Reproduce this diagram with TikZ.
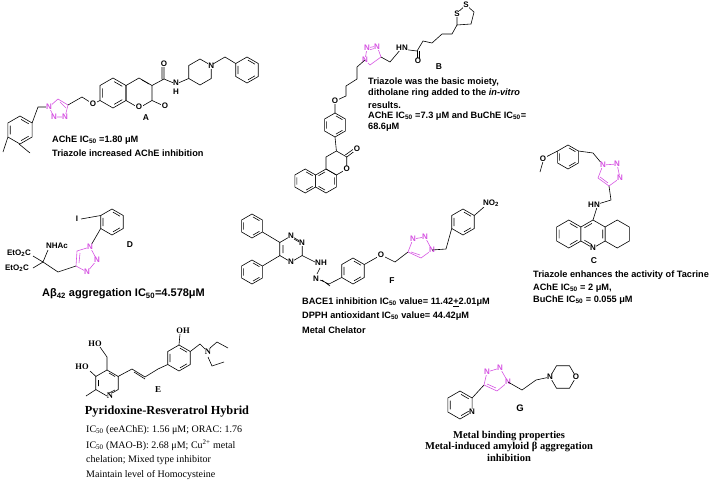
\documentclass[tikz,border=0pt]{standalone}
\usepackage{fontspec}
\setmainfont{Liberation Sans}
\newfontfamily\serf{Liberation Serif}
\begin{document}
\begin{tikzpicture}[x=1pt,y=-1pt,
  bond/.style={line width=0.6pt,black},
  tz/.style={line width=0.6pt,trz},
  atm/.style={font=\bfseries\fontsize{8}{8}\selectfont,fill=white,inner sep=0.4pt},
  atz/.style={atm,text=trz},
  lbl/.style={font=\bfseries\fontsize{8.5}{8.5}\selectfont},
  txt/.style={anchor=west,font=\bfseries\fontsize{9.2}{9.2}\selectfont,inner sep=0},
  stxt/.style={anchor=west,font=\serf\fontsize{10}{10}\selectfont,inner sep=0}]
\definecolor{trz}{RGB}{214,84,226}
\newcommand\hexa[4]{\draw[bond,shift={(#1,#2)},rotate=#4] (30:#3)--(90:#3)--(150:#3)--(210:#3)--(270:#3)--(330:#3)--cycle;}
\newcommand\arom[4]{\hexa{#1}{#2}{#3}{#4}\draw[bond,shift={(#1,#2)},rotate=#4] (36:0.76*#3)--(84:0.76*#3) (156:0.76*#3)--(204:0.76*#3) (276:0.76*#3)--(324:0.76*#3);}
\newcommand\sub[1]{\textsubscript{#1}}
\useasboundingbox (0,0) rectangle (709,482);
%================ A
\arom{20}{130}{14}{0}
\draw[bond] (19,144)--(30,153) (7.9,137)--(3,152);
\draw[bond] (32.1,123)--(38,107)--(49,107);
\draw[tz] (49,107)--(54,117)--(65,117)--(68,105)--(58,99)--cycle (66,108)--(60,102);
\node[atz] (a1) at (49,107) {N};\node[atz] (a2) at (54,117) {N};\node[atz] (a3) at (65,117) {N};
\draw[bond] (68,105)--(82,97)--(93,104)--(100,100.5);
\node[atm] (aO) at (93,104) {O};
\arom{113}{93}{15}{0}
\hexa{139}{93}{15}{0}
\draw[bond] (142,80)--(149,84);
\draw[bond] (152,100.5)--(164,106) (152,85.5)--(164,79)--(164,66) (162,79)--(162,66) (164,79)--(176,84)--(188.7,78.5);
\node[atm] (aO2) at (139,107) {O};\node[atm] (aO3) at (165,106) {O};\node[atm] (aO4) at (164,64) {O};
\node[atm] (aN) at (176,83) {N};\node[atm] (aH) at (176,92) {H};
\hexa{200}{72}{13}{0}
\node[atm] (aN2) at (211.3,65.5) {N};
\draw[bond] (213,64)--(225,57)--(235.7,63.5);
\arom{247}{70}{13}{0}
\node[lbl] (A) at (146,118) {A};
\node[txt] (ta1) at (52,140) {AChE IC\sub{50} =1.80 μM};
\node[txt] (ta2) at (52,153) {Triazole increased AChE inhibition};
%================ B
\draw[tz] (365,60)--(367,48)--(377,46)--(381,57)--(370,65)--cycle (369,50)--(376,48);
\node[atz] (b1) at (365,60) {N};\node[atz] (b2) at (367,48) {N};\node[atz] (b3) at (377,47) {N};
\draw[bond] (381,57)--(390,62)--(401,49)--(417,51)--(423,41)--(432,43)--(442,34)--(452,34)--(457,25);
\draw[bond] (417,51)--(417,61) (419,51)--(419,61);
\node[atm] (bHN) at (402,48) {HN};\node[atm] (bO) at (418,61) {O};
\draw[bond] (457,25)--(457,13)--(466,5)--(474,12)--(471,24)--cycle;
\node[atm] (bS1) at (457,14) {S};\node[atm] (bS2) at (466,5) {S};
\draw[bond] (365,60)--(357,67)--(357,79)--(346,86)--(346,96)--(335,101)--(335,113);
\node[atm] (bO2) at (335,101) {O};
\arom{335}{125}{12}{0}
\draw[bond] (335,137)--(336.4,151);
\hexa{336.4}{163}{12}{0}
\draw[bond] (346.8,157)--(356,150) (345.3,155)--(354.3,148.5);
\node[atm] (bO3) at (357,149) {O};\node[atm] (bO4) at (346.8,169) {O};
\arom{305.2}{181}{12}{0}
\arom{326}{181}{12}{180}
\node[lbl] (B) at (439,67) {B};
\node[txt] (tb1) at (368,82) {Triazole was the basic moiety,};
\node[txt] (tb2) at (368,93) {ditholane ring added to the \textit{in-vitro}};
\node[txt] (tb3) at (368,105) {results.};
\node[txt] (tb4) at (368,116) {AChE IC\sub{50} =7.3 μM and BuChE IC\sub{50}=};
\node[txt] (tb5) at (368,127) {68.6μM};
%================ C
\arom{568}{157}{12}{0}
\draw[bond] (557.6,151)--(544,158)--(540,172);
\node[atm] (cO) at (543,159) {O};
\draw[bond] (578.4,151)--(593,153)--(603,165);
\draw[tz] (603,165)--(617,164)--(620,178)--(609,186)--(598,178)--cycle (600,177)--(608,183);
\node[atz] (c1) at (603,165) {N};\node[atz] (c2) at (617,164) {N};\node[atz] (c3) at (620,178) {N};
\draw[bond] (609,186)--(611,200)--(598,204)--(593,220);
\node[atm] (cNH) at (594,205) {HN};
\arom{568.8}{234}{14}{0}
\arom{593}{234}{14}{180}
\hexa{617.2}{234}{14}{0}
\node[atm] (cN) at (593,248) {N};
\node[lbl] (C) at (594,261) {C};
\node[txt] (tc1) at (533,275) {Triazole enhances the activity of Tacrine};
\node[txt] (tc2) at (533,288) {AChE IC\sub{50} = 2 μM,};
\node[txt] (tc3) at (533,300) {BuChE IC\sub{50} = 0.055 μM};
%================ D
\arom{112}{222}{13}{0}
\draw[bond] (100.7,215.5)--(81,219) (100.7,228.5)--(90,247);
\node[atm] (dI) at (77,219) {I};
\draw[tz] (90,247)--(97,260)--(87,272)--(76,266)--(77,251)--cycle (79,263)--(80,253);
\node[atz] (d1) at (90,247) {N};\node[atz] (d2) at (97,260) {N};\node[atz] (d3) at (87,272) {N};
\draw[bond] (76,266)--(58,272)--(43,262)--(48,250) (43,262)--(33,256) (43,262)--(33,268);
\node[atm] (dNH) at (57,246) {NHAc};
\node[atm] (dE1) at (19,253) {EtO\sub{2}C};\node[atm] (dE2) at (17,268) {EtO\sub{2}C};
\node[lbl] (D) at (130,245) {D};
\node[anchor=west,font=\bfseries\fontsize{11}{11}\selectfont,inner sep=0] (td) at (42,294) {Aβ\sub{42} aggregation IC\sub{50}=4.578μM};
%================ E
\hexa{107}{383}{13}{0}
\draw[bond] (98.5,380)--(98.5,386) (109,393)--(115,390) (109,373)--(115,376.5);
\draw[bond] (107,370)--(107,357)--(100,347) (96,376.5)--(90,371) (96,389.5)--(86,396);
\node[atm,font=\serf\bfseries\fontsize{8.5}{8.5}\selectfont] (eHO) at (95,344) {HO};
\node[atm,font=\serf\bfseries\fontsize{8.5}{8.5}\selectfont] (eHO2) at (82,367) {HO};
\node[atm,font=\serf\bfseries\fontsize{8.5}{8.5}\selectfont] (eN) at (110,396) {N};
\draw[bond] (118,376.5)--(132,369)--(145,377)--(158,369)--(167.7,364.5) (134,372)--(145,379);
\arom{179}{358}{13}{0}
\draw[bond] (179,345)--(180,334) (190.3,351.5)--(200,344)--(207,351) (210,348)--(217,342)--(228,348) (208,357)--(212,366)--(224,362);
\node[atm,font=\serf\bfseries\fontsize{8.5}{8.5}\selectfont] (eOH) at (183,331) {OH};
\node[atm,font=\serf\bfseries\fontsize{8.5}{8.5}\selectfont] (eN2) at (208,352) {N};
\node[font=\serf\bfseries\fontsize{9}{9}\selectfont] (E) at (158,390) {E};
\node[font=\serf\bfseries\fontsize{12.3}{12.3}\selectfont] (te) at (167,412) {Pyridoxine-Resveratrol Hybrid};
\node[stxt] (te1) at (86,430) {IC\sub{50} (eeAChE): 1.56 μM; ORAC: 1.76};
\node[stxt] (te2) at (86,445) {IC\sub{50} (MAO-B): 2.68 μM; Cu\textsuperscript{2+} metal};
\node[stxt] (te3) at (86,460) {chelation; Mixed type inhibitor};
\node[stxt] (te4) at (86,475) {Maintain level of Homocysteine};
%================ F
\arom{252}{226}{12}{0}
\arom{252}{272}{12}{0}
\hexa{291}{249}{13}{0}
\draw[bond] (283,245)--(283,253) (294,239)--(300,242.5);
\draw[bond] (262.4,232)--(280,242.5) (262.4,266)--(280,255.5);
\node[atm] (f1) at (302,242.5) {N};\node[atm] (f2) at (291,236) {N};\node[atm] (f3) at (291,262) {N};
\draw[bond] (302,255.5)--(315,262) (320,268)--(317,274) (320,280)--(329,284)--(341.7,277.5) (322,280)--(330,286);
\node[atm] (fNH) at (321,263) {NH};\node[atm] (fN) at (316,279) {N};
\arom{353}{271}{13}{0}
\draw[bond] (364.3,264.5)--(381,255)--(395,262)--(408,252);
\node[atm] (fO) at (381,255) {O};
\draw[tz] (432,250)--(425,237)--(413,239)--(408,252)--(421,258)--cycle (411,252)--(420,255);
\node[atz] (fa1) at (432,250) {N};\node[atz] (fa2) at (425,237) {N};\node[atz] (fa3) at (413,239) {N};
\draw[bond] (432,250)--(446,249)--(451.7,228.5);
\arom{463}{222}{13}{0}
\draw[bond] (474.3,215.5)--(484,207);
\node[atm] (fNO) at (491,203) {NO\sub{2}};
\node[lbl] (F) at (392,281) {F};
\node[txt] (tf1) at (302,302) {BACE1 inhibition IC\sub{50} value= 11.42\underline{+}2.01μM};
\node[txt] (tf2) at (302,316) {DPPH antioxidant IC\sub{50} value= 44.42μM};
\node[txt] (tf3) at (302,330) {Metal Chelator};
%================ G
\arom{460}{405}{14}{0}
\node[atm] (gN) at (472,412) {N};
\draw[bond] (472.1,398)--(484,385);
\draw[tz] (508,382)--(500,368)--(487,372)--(484,385)--(497,391)--cycle (487,384)--(496,388);
\node[atz] (g1) at (508,382) {N};\node[atz] (g2) at (500,368) {N};\node[atz] (g3) at (487,372) {N};
\draw[bond] (508,382)--(522,390)--(536,380)--(550,377);
\hexa{563}{377}{13}{30}
\node[atm] (gN2) at (550,377) {N};\node[atm] (gO) at (576,377) {O};
\node[font=\bfseries\fontsize{9.5}{9.5}\selectfont] (G) at (520,408) {G};
\node[font=\serf\bfseries\fontsize{10.5}{10.5}\selectfont,align=center] (tg) at (509,446) {Metal binding properties\\[1pt]Metal-induced amyloid β aggregation\\[1pt]inhibition};
\end{tikzpicture}
\end{document}
